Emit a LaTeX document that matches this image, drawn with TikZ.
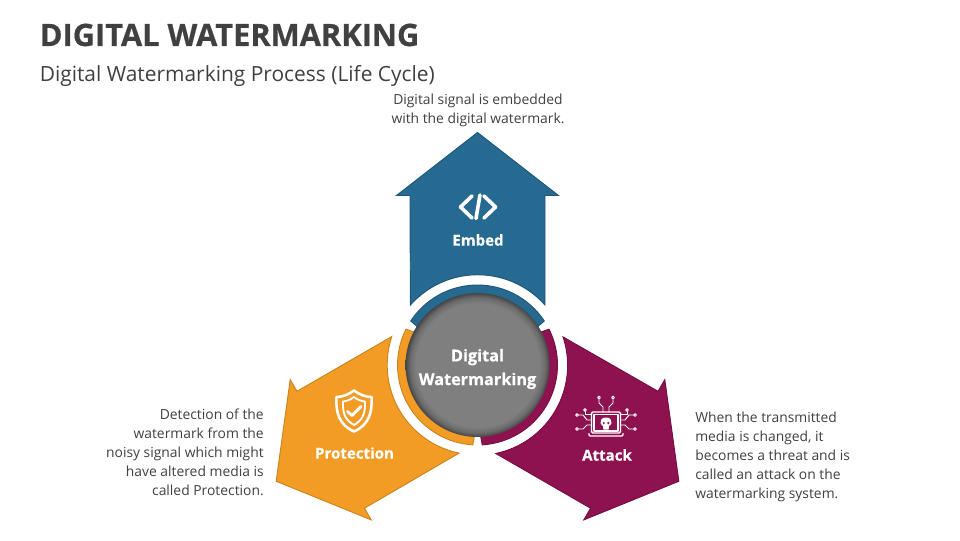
\documentclass[tikz,border=0pt]{standalone}
\usepackage{fontspec}
\setmainfont{Open Sans}[BoldFeatures={FakeBold=0.5}]
\definecolor{txt}{HTML}{404040}
\definecolor{blueF}{HTML}{266A92}
\definecolor{blueD}{HTML}{1E5776}
\definecolor{orangeF}{HTML}{F29C26}
\definecolor{orangeD}{HTML}{C9851F}
\definecolor{purpleF}{HTML}{8F1250}
\definecolor{purpleD}{HTML}{760F42}
\definecolor{hubA}{HTML}{7F7F7F}
\definecolor{hubB}{HTML}{6A6A6A}
\definecolor{hubC}{HTML}{454545}
\pgfdeclareradialshading{hubshade}{\pgfpoint{0bp}{0bp}}{color(0bp)=(hubA); color(21.5bp)=(hubA); color(23.5bp)=(hubB); color(25bp)=(hubC); color(50bp)=(hubC)}
\newcommand{\arrowblock}[3]{%
  \begin{scope}[shift={(477.5,175)},rotate=#1]
    \draw[fill=#2,draw=#3,line width=.7pt,line join=miter]
      (0,232.5) -- (81,169.5) -- (67.5,169.5) -- (67.5,60)
      arc[start angle=41.6,end angle=138.4,radius=90]
      -- (-67.5,169.5) -- (-81,169.5) -- cycle;
    \draw[fill=#2,draw=#3,line width=.7pt]
      (33.4:80) arc[start angle=33.4,end angle=146.6,radius=80]
      -- (147.9:68) arc[start angle=147.9,end angle=32.1,radius=68] -- cycle;
  \end{scope}}
\tikzset{
  x=.75pt,y=.75pt,
  body/.style={font=\fontsize{10.4pt}{14.3pt}\selectfont,text=txt,inner sep=0pt},
  blocklabel/.style={font=\fontsize{11.3pt}{14pt}\selectfont\bfseries,text=white,inner sep=0pt},
  icon/.style={draw=white,line cap=round,line join=round},
}
\begin{document}
\begin{tikzpicture}
\useasboundingbox (0,0) rectangle (960,540);
\node[font=\fontsize{23.1pt}{28pt}\selectfont\bfseries,text=txt,anchor=base west,inner sep=0pt] (title) at (39.5,494) {DIGITAL WATERMARKING};
\node[font=\fontsize{15.7pt}{18pt}\selectfont,text=txt,anchor=base west,inner sep=0pt] (subtitle) at (39.5,458) {Digital Watermarking Process (Life Cycle)};

\arrowblock{0}{blueF}{blueD}
\arrowblock{120}{orangeF}{orangeD}
\arrowblock{-120}{purpleF}{purpleD}

\node[circle,minimum size=108pt,inner sep=0pt,shading=hubshade] (hub) at (477.5,175) {};
\node[inner sep=0pt,align=center,text=white,font=\fontsize{12.2pt}{18pt}\selectfont\bfseries] (hublabel) at (477.5,171) {Digital\\[-.2pt]Watermarking};

\node[blocklabel] (embed) at (478,300) {Embed};
\node[blocklabel] (protection) at (354.5,87) {Protection};
\node[blocklabel] (attack) at (607,85) {Attack};

\node[body,align=center,anchor=north] (t1) at (478,446.5) {Digital signal is embedded\\with the digital watermark.};
\node[body,align=right,anchor=north east] (t2) at (264,131.5) {Detection of the\\watermark from the\\noisy signal which might\\have altered media is\\called Protection.};
\node[body,align=left,anchor=north west] (t3) at (695,128.5) {When the transmitted\\media is changed, it\\becomes a threat and is\\called an attack on the\\watermarking system.};

\begin{scope}[shift={(0,540)},yscale=-1]
  % code icon
  \draw[icon,line width=2.7pt] (472,196) -- (460.5,207) -- (472,218);
  \draw[icon,line width=2.7pt] (484,196) -- (495.5,207) -- (484,218);
  \draw[icon,line width=2.7pt] (480,195) -- (476,218.5);
  % shield icon
  \draw[icon,line width=1.9pt] (354,390.5) .. controls (348,395) and (342,397) .. (336.5,397)
     .. controls (335.5,412) and (339,425) .. (354,431.5)
     .. controls (369,425) and (372.5,412) .. (371.5,397)
     .. controls (366,397) and (360,395) .. (354,390.5) -- cycle;
  \draw[icon,line width=1.4pt] (354,397) .. controls (350,400) and (347,401) .. (343,401.5)
     .. controls (342.5,413) and (345,420) .. (354,425)
     .. controls (363,420) and (365.5,413) .. (365,401.5)
     .. controls (361,401) and (358,400) .. (354,397) -- cycle;
  \draw[icon,line width=2.2pt] (347.5,411.5) -- (352,415.5) -- (361,406.5);
  % attack icon
  \begin{scope}[shift={(606,0)}]
    \foreach \s in {1,-1}{
      \begin{scope}[xscale=\s]
        \draw[icon,line width=.7pt] (7,399) -- (7,403) -- (3,407) -- (3,412);
        \draw[icon,line width=.7pt] (21,411.5) -- (21,414) -- (14.5,414);
        \draw[icon,line width=.7pt] (27.5,415) -- (23,415) -- (19,420) -- (14.5,420);
        \draw[icon,line width=.7pt] (27.5,429) -- (23,429) -- (19,425) -- (14.5,425);
        \draw[icon,line width=.7pt,fill=purpleF] (7,397.5) circle[radius=1.4];
        \draw[icon,line width=.7pt,fill=purpleF] (21,410) circle[radius=1.4];
        \draw[icon,line width=.7pt,fill=purpleF] (29,415) circle[radius=1.4];
        \draw[icon,line width=.7pt,fill=purpleF] (29,429) circle[radius=1.4];
      \end{scope}}
    \draw[icon,line width=1pt,rounded corners=1pt] (-14.5,412) rectangle (14.5,433);
    \draw[icon,line width=.9pt] (-12,414.5) rectangle (12,431);
    \draw[icon,line width=1.1pt,rounded corners=.8pt] (-17,433.5) -- (-17,436) -- (17,436) -- (17,433.5);
    % skull
    \fill[white] (0,417.5) .. controls (-4.5,417.5) and (-6,420.5) .. (-5.5,423)
       .. controls (-5.2,425) and (-3.5,425.5) .. (-3,426) -- (-2.6,429.5) -- (2.6,429.5) -- (3,426)
       .. controls (3.5,425.5) and (5.2,425) .. (5.5,423)
       .. controls (6,420.5) and (4.5,417.5) .. (0,417.5) -- cycle;
    \fill[purpleF] (-2.3,423) circle[radius=1.2];
    \fill[purpleF] (2.3,423) circle[radius=1.2];
  \end{scope}
\end{scope}
\end{tikzpicture}
\end{document}
